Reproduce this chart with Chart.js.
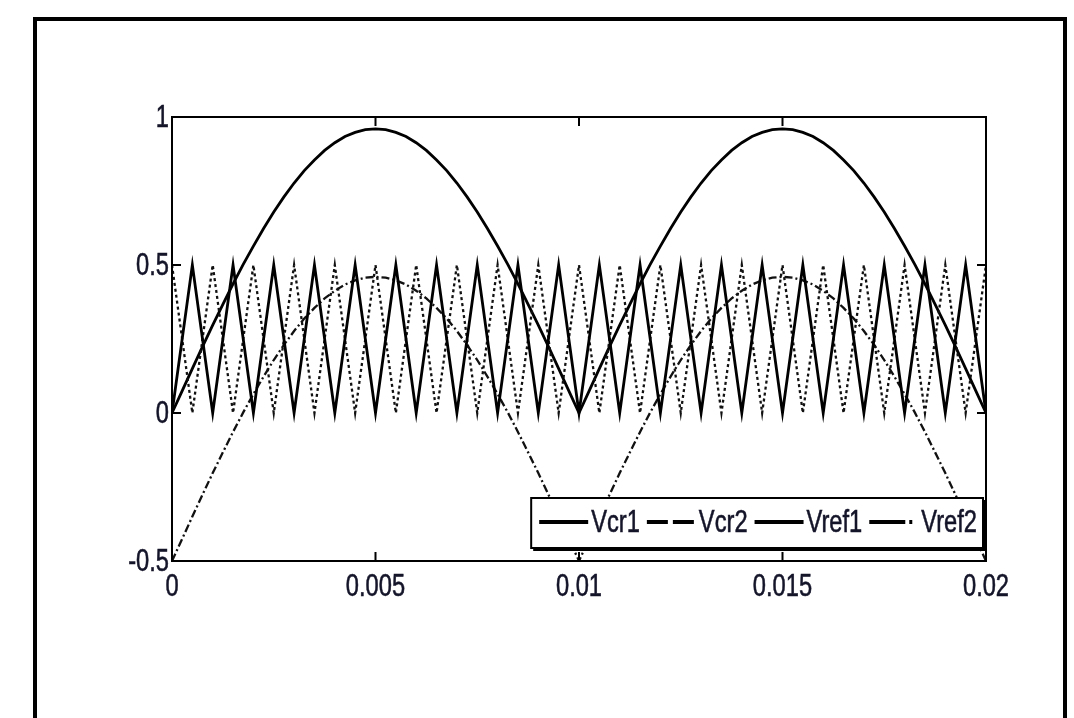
<!DOCTYPE html>
<html>
<head>
<meta charset="utf-8">
<script src="https://cdn.jsdelivr.net/npm/chart.js@4.4.1/dist/chart.umd.min.js"></script>
<style>
  body { margin: 0; background: #fff; }
  #wrap { position: relative; width: 1074px; height: 718px; overflow: hidden; }
  #frame {
    position: absolute; left: 33px; top: 17px; width: 1026px; height: 800px;
    border: 4px solid #000; border-bottom: none; pointer-events: none;
  }
</style>
</head>
<body>
<div id="wrap">
  <canvas id="plot" width="1074" height="718"></canvas>
  <div id="frame"></div>
</div>
<script>
// time samples for the reference waves (s)
const tRef = [
  0, 0.00025, 0.0005, 0.00075, 0.001, 0.00125, 0.0015, 0.00175, 0.002, 0.00225,
  0.0025, 0.00275, 0.003, 0.00325, 0.0035, 0.00375, 0.004, 0.00425, 0.0045, 0.00475,
  0.005, 0.00525, 0.0055, 0.00575, 0.006, 0.00625, 0.0065, 0.00675, 0.007, 0.00725,
  0.0075, 0.00775, 0.008, 0.00825, 0.0085, 0.00875, 0.009, 0.00925, 0.0095, 0.00975,
  0.01, 0.01025, 0.0105, 0.01075, 0.011, 0.01125, 0.0115, 0.01175, 0.012, 0.01225,
  0.0125, 0.01275, 0.013, 0.01325, 0.0135, 0.01375, 0.014, 0.01425, 0.0145, 0.01475,
  0.015, 0.01525, 0.0155, 0.01575, 0.016, 0.01625, 0.0165, 0.01675, 0.017, 0.01725,
  0.0175, 0.01775, 0.018, 0.01825, 0.0185, 0.01875, 0.019, 0.01925, 0.0195, 0.01975,
  0.02
];

const vref1 = [
  0, 0.075, 0.150, 0.224, 0.297, 0.367, 0.436, 0.502, 0.564, 0.623,
  0.679, 0.730, 0.777, 0.819, 0.855, 0.887, 0.913, 0.934, 0.948, 0.957,
  0.960, 0.957, 0.948, 0.934, 0.913, 0.887, 0.855, 0.819, 0.777, 0.730,
  0.679, 0.623, 0.564, 0.502, 0.436, 0.367, 0.297, 0.224, 0.150, 0.075,
  0, 0.075, 0.150, 0.224, 0.297, 0.367, 0.436, 0.502, 0.564, 0.623,
  0.679, 0.730, 0.777, 0.819, 0.855, 0.887, 0.913, 0.934, 0.948, 0.957,
  0.960, 0.957, 0.948, 0.934, 0.913, 0.887, 0.855, 0.819, 0.777, 0.730,
  0.679, 0.623, 0.564, 0.502, 0.436, 0.367, 0.297, 0.224, 0.150, 0.075,
  0
];

const vref2 = [
  -0.5, -0.425, -0.350, -0.276, -0.203, -0.133, -0.064, 0.002, 0.064, 0.123,
  0.179, 0.230, 0.277, 0.319, 0.355, 0.387, 0.413, 0.434, 0.448, 0.457,
  0.460, 0.457, 0.448, 0.434, 0.413, 0.387, 0.355, 0.319, 0.277, 0.230,
  0.179, 0.123, 0.064, 0.002, -0.064, -0.133, -0.203, -0.276, -0.350, -0.425,
  -0.5, -0.425, -0.350, -0.276, -0.203, -0.133, -0.064, 0.002, 0.064, 0.123,
  0.179, 0.230, 0.277, 0.319, 0.355, 0.387, 0.413, 0.434, 0.448, 0.457,
  0.460, 0.457, 0.448, 0.434, 0.413, 0.387, 0.355, 0.319, 0.277, 0.230,
  0.179, 0.123, 0.064, 0.002, -0.064, -0.133, -0.203, -0.276, -0.350, -0.425,
  -0.5
];

// carrier corners (s)
const tCar = [
  0, 0.0005, 0.001, 0.0015, 0.002, 0.0025, 0.003, 0.0035, 0.004, 0.0045,
  0.005, 0.0055, 0.006, 0.0065, 0.007, 0.0075, 0.008, 0.0085, 0.009, 0.0095,
  0.01, 0.0105, 0.011, 0.0115, 0.012, 0.0125, 0.013, 0.0135, 0.014, 0.0145,
  0.015, 0.0155, 0.016, 0.0165, 0.017, 0.0175, 0.018, 0.0185, 0.019, 0.0195,
  0.02
];

const vcr1 = [
  0, 0.5, 0, 0.5, 0, 0.5, 0, 0.5, 0, 0.5,
  0, 0.5, 0, 0.5, 0, 0.5, 0, 0.5, 0, 0.5,
  0, 0.5, 0, 0.5, 0, 0.5, 0, 0.5, 0, 0.5,
  0, 0.5, 0, 0.5, 0, 0.5, 0, 0.5, 0, 0.5,
  0
];

const vcr2 = [
  0.5, 0, 0.5, 0, 0.5, 0, 0.5, 0, 0.5, 0,
  0.5, 0, 0.5, 0, 0.5, 0, 0.5, 0, 0.5, 0,
  0.5, 0, 0.5, 0, 0.5, 0, 0.5, 0, 0.5, 0,
  0.5, 0, 0.5, 0, 0.5, 0, 0.5, 0, 0.5, 0,
  0.5
];

const xTicks = [0, 0.005, 0.01, 0.015, 0.02];
const xTickLabels = ["0", "0.005", "0.01", "0.015", "0.02"];
const yTicks = [-0.5, 0, 0.5, 1];
const yTickLabels = ["-0.5", "0", "0.5", "1"];

const seriesNames = ["Vcr1", "Vcr2", "Vref1", "Vref2"];

const FONT = "'Liberation Sans', Arial, sans-serif";
const SQUEEZE = 0.74; // text in the figure is narrow, like arial narrow
const TXT = "#15152a";

const pts = (xs, ys) => xs.map((x, i) => ({ x: x, y: ys[i] }));

// legend line samples (dash patterns differ from the plot ones, like matlab)
const legendDash = [[], [21, 5], [], [36, 4, 3, 10]];

function narrowText(ctx, s, x, y, align) {
  ctx.save();
  ctx.translate(x, y);
  ctx.scale(SQUEEZE, 1);
  ctx.textAlign = align;
  ctx.textBaseline = "middle";
  ctx.fillText(s, 0, 0);
  ctx.strokeStyle = ctx.fillStyle;
  ctx.lineWidth = 0.6;
  ctx.strokeText(s, 0, 0);
  ctx.restore();
}

// box, inward ticks on all four sides, tick labels and the legend
const matlabAxes = {
  id: "matlabAxes",
  afterDatasetsDraw(chart) {
    const ctx = chart.ctx;
    const a = chart.chartArea;
    const xs = chart.scales.x;
    const ys = chart.scales.y;
    const tl = 9;
    ctx.save();
    ctx.strokeStyle = "#000";
    ctx.lineWidth = 2;
    ctx.strokeRect(a.left, a.top, a.right - a.left, a.bottom - a.top);
    ctx.beginPath();
    xTicks.forEach((v) => {
      const px = xs.getPixelForValue(v);
      ctx.moveTo(px, a.bottom); ctx.lineTo(px, a.bottom - tl);
      ctx.moveTo(px, a.top); ctx.lineTo(px, a.top + tl);
    });
    yTicks.forEach((v) => {
      const py = ys.getPixelForValue(v);
      ctx.moveTo(a.left, py); ctx.lineTo(a.left + tl, py);
      ctx.moveTo(a.right, py); ctx.lineTo(a.right - tl, py);
    });
    ctx.stroke();

    ctx.font = "32px " + FONT;
    ctx.fillStyle = TXT;
    xTicks.forEach((v, i) => {
      narrowText(ctx, xTickLabels[i], xs.getPixelForValue(v), a.bottom + 26, "center");
    });
    yTicks.forEach((v, i) => {
      narrowText(ctx, yTickLabels[i], a.left - 3, ys.getPixelForValue(v) + 1, "right");
    });

    // legend
    const lineLen = 49;
    const tw = seriesNames.map((n) => ctx.measureText(n).width * SQUEEZE);
    let w = 8;
    seriesNames.forEach((n, i) => { w += lineLen + 3 + tw[i] + (i < 3 ? 7 : 6); });
    const h = 50;
    const bx = a.right - 3 - w;
    const by = a.bottom - 13 - h;
    ctx.fillStyle = "#fff";
    ctx.fillRect(bx, by, w, h);
    ctx.strokeStyle = "#000";
    ctx.lineWidth = 2;
    ctx.strokeRect(bx, by, w, h);
    ctx.beginPath();
    ctx.moveTo(bx + w + 2, by + 2); ctx.lineTo(bx + w + 2, by + h + 2); ctx.lineTo(bx + 2, by + h + 2);
    ctx.stroke();

    let cx = bx + 8;
    const cy = by + h / 2 - 1;
    seriesNames.forEach((n, i) => {
      ctx.setLineDash(legendDash[i]);
      ctx.strokeStyle = "#000";
      ctx.lineWidth = 4;
      ctx.beginPath();
      ctx.moveTo(cx, cy); ctx.lineTo(cx + lineLen, cy);
      ctx.stroke();
      ctx.setLineDash([]);
      cx += lineLen + 3;
      ctx.fillStyle = TXT;
      narrowText(ctx, n, cx, cy + 1, "left");
      cx += tw[i] + 7;
    });
    ctx.restore();
  }
};

const chart = new Chart(document.getElementById("plot"), {
  type: "line",
  data: {
    datasets: [
      { label: seriesNames[0], data: pts(tCar, vcr1), borderColor: "#000", borderWidth: 2.8 },
      { label: seriesNames[1], data: pts(tCar, vcr2), borderColor: "#111", borderWidth: 2.3, borderDash: [3, 3] },
      { label: seriesNames[2], data: pts(tRef, vref1), borderColor: "#000", borderWidth: 2.8 },
      { label: seriesNames[3], data: pts(tRef, vref2), borderColor: "#111", borderWidth: 2.3, borderDash: [8, 3, 2, 3] },
    ],
  },
  options: {
    responsive: false,
    animation: false,
    layout: { padding: { top: 117, right: 88, left: 0, bottom: 97 } },
    elements: {
      point: { radius: 0 },
      line: { tension: 0, fill: false },
    },
    plugins: {
      legend: { display: false },
      tooltip: { enabled: false },
    },
    scales: {
      x: {
        type: "linear",
        min: 0,
        max: 0.02,
        afterFit: (s) => { s.height = 60; },
        grid: { display: false, drawTicks: false },
        border: { display: false },
        ticks: { display: false },
      },
      y: {
        type: "linear",
        min: -0.5,
        max: 1,
        afterFit: (s) => { s.width = 172; },
        grid: { display: false, drawTicks: false },
        border: { display: false },
        ticks: { display: false },
      },
    },
  },
  plugins: [matlabAxes],
});
</script>
</body>
</html>
